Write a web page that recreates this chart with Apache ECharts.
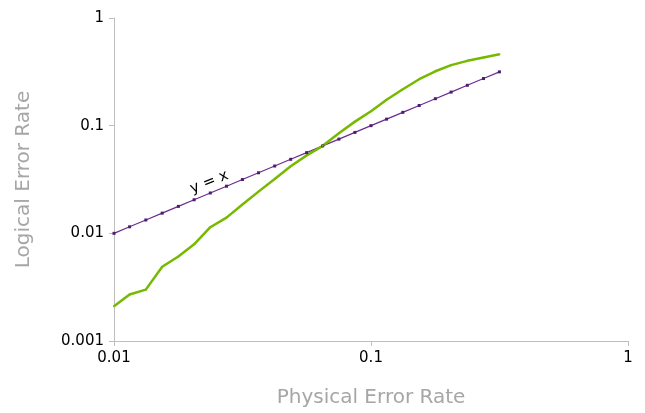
<!DOCTYPE html>
<html>
<head>
<meta charset="utf-8">
<script src="https://cdn.jsdelivr.net/npm/echarts@6/dist/echarts.min.js"></script>
<style>html,body{margin:0;padding:0;background:#fff}#main{width:645px;height:413px}</style>
</head>
<body>
<div id="main"></div>
<script>
var physical = [0.01, 0.0115, 0.0133, 0.0154, 0.0178, 0.0205, 0.0237, 0.0274, 0.0316, 0.0365, 0.0422, 0.0487, 0.0562, 0.0649, 0.075, 0.0866, 0.1, 0.115, 0.133, 0.154, 0.178, 0.205, 0.237, 0.274, 0.316];
var identity = [0.01, 0.0115, 0.0133, 0.0154, 0.0178, 0.0205, 0.0237, 0.0274, 0.0316, 0.0365, 0.0422, 0.0487, 0.0562, 0.0649, 0.075, 0.0866, 0.1, 0.115, 0.133, 0.154, 0.178, 0.205, 0.237, 0.274, 0.316];
var logical = [0.0021, 0.0027, 0.003, 0.0049, 0.0061, 0.0079, 0.0114, 0.014, 0.0185, 0.0244, 0.032, 0.042, 0.053, 0.065, 0.085, 0.109, 0.136, 0.174, 0.218, 0.27, 0.32, 0.365, 0.4, 0.43, 0.46];

function pairs(xs, ys) { return xs.map(function (x, i) { return [x, ys[i]]; }); }
function fmt(v) { return String(+v.toPrecision(3)); }

var chart = echarts.init(document.getElementById('main'));
var option = {
  animation: false,
  grid: { left: 114, right: 17, top: 18, bottom: 70 },
  xAxis: {
    type: 'log', min: 0.01, max: 1,
    name: 'Physical Error Rate', nameLocation: 'middle', nameGap: 47,
    nameTextStyle: { color: '#a6a6a6', fontSize: 20, fontFamily: 'DejaVu Sans' },
    axisLine: { lineStyle: { color: '#bfbfbf' } },
    axisTick: { show: true, length: 5, lineStyle: { color: '#bfbfbf' } },
    splitLine: { show: false },
    axisLabel: { color: '#000', fontSize: 15, fontFamily: 'DejaVu Sans', formatter: fmt, margin: 10 }
  },
  yAxis: {
    type: 'log', min: 0.001, max: 1,
    name: 'Logical Error Rate', nameLocation: 'middle', nameGap: 80,
    nameTextStyle: { color: '#a6a6a6', fontSize: 20, fontFamily: 'DejaVu Sans' },
    axisLine: { show: true, lineStyle: { color: '#bfbfbf' } },
    axisTick: { show: true, length: 5, lineStyle: { color: '#bfbfbf' } },
    splitLine: { show: false },
    axisLabel: { color: '#000', fontSize: 15, fontFamily: 'DejaVu Sans', formatter: fmt, margin: 10 }
  },
  graphic: [{
    type: 'text', left: 188, top: 168, rotation: 0.38,
    style: { text: 'y = x', fill: '#000', fontSize: 15, fontFamily: 'DejaVu Sans' }
  }],
  series: [
    {
      type: 'line', data: pairs(physical, identity),
      symbol: 'rect', symbolSize: 3, showSymbol: true,
      lineStyle: { color: '#6a2c91', width: 1.2 }, itemStyle: { color: '#4b1f6f' }
    },
    {
      type: 'line', data: pairs(physical, logical),
      symbol: 'circle', symbolSize: 2, showSymbol: true,
      lineStyle: { color: '#76b900', width: 2.5 }, itemStyle: { color: '#76b900' }
    }
  ]
};
chart.setOption(option);
window.addEventListener('resize', function () { chart.resize(); });
</script>
</body>
</html>
